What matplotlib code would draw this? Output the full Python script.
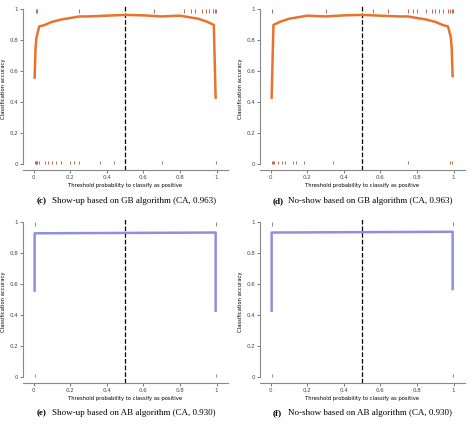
import matplotlib.pyplot as plt

# GB curves
gb_show_x = [0.005, 0.01, 0.015, 0.03, 0.06, 0.1, 0.15, 0.2, 0.25, 0.3, 0.4, 0.5, 0.6, 0.7, 0.8, 0.85, 0.9, 0.95, 0.985, 0.995]
gb_show_y = [0.56, 0.75, 0.82, 0.89, 0.90, 0.92, 0.935, 0.945, 0.955, 0.955, 0.96, 0.965, 0.962, 0.955, 0.96, 0.95, 0.94, 0.92, 0.90, 0.43]
gb_noshow_x = [0.005, 0.015, 0.05, 0.1, 0.15, 0.2, 0.3, 0.4, 0.5, 0.6, 0.7, 0.75, 0.8, 0.85, 0.9, 0.94, 0.97, 0.985, 0.99, 0.995]
gb_noshow_y = [0.43, 0.90, 0.92, 0.94, 0.95, 0.96, 0.955, 0.962, 0.965, 0.96, 0.955, 0.955, 0.945, 0.935, 0.92, 0.90, 0.89, 0.82, 0.75, 0.57]
gb_show_top = [0.01, 0.02, 0.25, 0.66, 0.82, 0.86, 0.88, 0.92, 0.94, 0.96, 0.98, 0.99, 0.995]
gb_show_bot = [0.005, 0.01, 0.015, 0.02, 0.03, 0.06, 0.08, 0.1, 0.12, 0.15, 0.2, 0.22, 0.25, 0.36, 0.44, 0.7, 0.995]
gb_noshow_top = [0.005, 0.3, 0.56, 0.64, 0.75, 0.78, 0.8, 0.85, 0.88, 0.9, 0.92, 0.94, 0.97, 0.98, 0.99, 0.995]
gb_noshow_bot = [0.005, 0.01, 0.02, 0.04, 0.06, 0.08, 0.12, 0.14, 0.18, 0.34, 0.75, 0.98, 0.99]

# AB curves
ab_show_x = [0.005, 0.005, 0.995, 0.995]
ab_show_y = [0.56, 0.93, 0.935, 0.43]
ab_noshow_x = [0.005, 0.005, 0.995, 0.995]
ab_noshow_y = [0.43, 0.935, 0.94, 0.57]
ab_top = [0.005, 0.995]
ab_bot = [0.005, 0.995]

captions = [("(c)", "Show-up based on GB algorithm (CA, 0.963)"),
            ("(d)", "No-show based on GB algorithm (CA, 0.963)"),
            ("(e)", "Show-up based on AB algorithm (CA, 0.930)"),
            ("(f)", "No-show based on AB algorithm (CA, 0.930)")]

panels = [(gb_show_x, gb_show_y, gb_show_top, gb_show_bot, '#e8732c'),
          (gb_noshow_x, gb_noshow_y, gb_noshow_top, gb_noshow_bot, '#e8732c'),
          (ab_show_x, ab_show_y, ab_top, ab_bot, '#8f8fe0'),
          (ab_noshow_x, ab_noshow_y, ab_top, ab_bot, '#8f8fe0')]

fig = plt.figure(figsize=(4.74, 4.26), dpi=100)
positions = [(0.048, 0.60, 0.432, 0.385), (0.548, 0.60, 0.432, 0.385),
             (0.048, 0.10, 0.432, 0.385), (0.548, 0.10, 0.432, 0.385)]
cap_y = [0.528, 0.528, 0.03, 0.03]
cap_x = [0.078, 0.575, 0.078, 0.575]

for i, (x, y, top, bot, col) in enumerate(panels):
    ax = fig.add_axes(positions[i])
    ax.plot(x, y, color=col, lw=1.8, zorder=3)
    rug = '#b8502e' if i < 2 else '#777777'
    ax.vlines(top, 0.98, 1.0, color=rug, lw=0.6)
    ax.vlines(bot, 0.0, 0.02, color=rug, lw=0.6)
    ax.axvline(0.5, color='black', ls='--', lw=0.9)
    ax.set_xlim(-0.06, 1.06)
    ax.set_ylim(-0.04, 1.02)
    ax.set_xticks([0, 0.2, 0.4, 0.6, 0.8, 1])
    ax.set_xticklabels(['0', '0.2', '0.4', '0.6', '0.8', '1'])
    ax.set_yticks([0, 0.2, 0.4, 0.6, 0.8, 1])
    ax.set_yticklabels(['0', '0.2', '0.4', '0.6', '0.8', '1'])
    ax.tick_params(labelsize=4, length=2, width=0.5, colors='#444444', pad=1.5)
    for s in ['top', 'right']:
        ax.spines[s].set_visible(False)
    for s in ['left', 'bottom']:
        ax.spines[s].set_color('#888888')
        ax.spines[s].set_linewidth(0.8)
    ax.spines['left'].set_bounds(0, 1)
    ax.set_xlabel('Threshold probability to classify as positive', fontsize=3.8, labelpad=2)
    ax.set_ylabel('Classification accuracy', fontsize=3.8, labelpad=2)
    lab, txt = captions[i]
    t = fig.text(cap_x[i], cap_y[i], lab, ha='left', va='center', fontsize=6.5,
                 family='Liberation Serif', weight='bold')
    fig.text(cap_x[i] + 0.032, cap_y[i], txt, ha='left', va='center',
             fontsize=6.5, family='Liberation Serif')

fig.savefig('out.png', dpi=100)
